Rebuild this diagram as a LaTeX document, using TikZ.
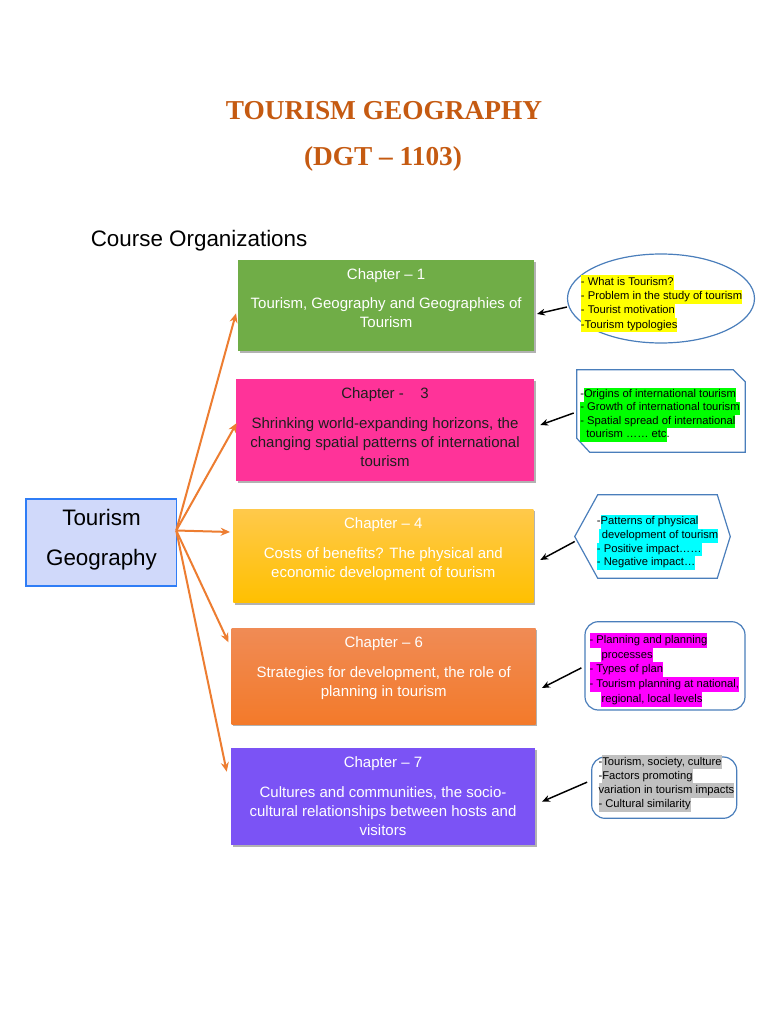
\documentclass[tikz,border=0pt]{standalone}
\usepackage{fontspec}
\setmainfont{Liberation Sans}
\newfontfamily\titlefont{Liberation Serif}
\usetikzlibrary{arrows.meta,calc,fit,shapes.geometric,shadows}
\setlength{\fboxsep}{0pt}
\newcommand\hlx[2]{\colorbox{#1}{\strut#2}}
\definecolor{titleorange}{HTML}{C55A11}
\definecolor{chgreen}{HTML}{70AD47}
\definecolor{chpink}{HTML}{FF3399}
\definecolor{chgoldtop}{HTML}{FFC94B}
\definecolor{chgoldbot}{HTML}{FFC000}
\definecolor{chorangetop}{HTML}{F08B55}
\definecolor{chorangebot}{HTML}{F37A2A}
\definecolor{chpurple}{HTML}{7B53F5}
\definecolor{tgfill}{HTML}{D0D9FA}
\definecolor{tgline}{HTML}{2F7DF6}
\definecolor{arrorange}{HTML}{ED7D31}
\definecolor{coline}{HTML}{4A7EBB}
\definecolor{hlyellow}{HTML}{FFFF00}
\definecolor{hlgreen}{HTML}{00FF00}
\definecolor{hlcyan}{HTML}{00FFFF}
\definecolor{hlmag}{HTML}{FF00FF}
\definecolor{hlgray}{HTML}{C0C0C0}
\begin{document}
\begin{tikzpicture}[x=0.75pt,y=-0.75pt,
  chapbox/.style={inner sep=0pt, drop shadow={shadow xshift=1.2pt, shadow yshift=-1.5pt, opacity=0.3, fill=black}},
  chaptext/.style={font=\fontsize{11.25}{14.3}\selectfont, align=center, inner sep=0pt, anchor=north},
  orangearrow/.style={draw=arrorange, line width=1.5pt, -{Stealth[length=7pt,width=6pt]}},
  blackarrow/.style={draw=black, line width=1.1pt, -{Stealth[length=6pt,width=5pt]}},
  callout/.style={draw=coline, line width=0.9pt},
  cotext/.style={anchor=north west, align=left, inner sep=0pt, text=black}
]
\fill[white] (0,0) rectangle (768,1024);
\useasboundingbox (0,0) rectangle (768,1024);

% titles
\node[anchor=base, inner sep=0pt, text=titleorange, font=\titlefont\bfseries\fontsize{20.5}{24}\selectfont] (title1) at (384,119.3) {TOURISM GEOGRAPHY};
\node[anchor=base, inner sep=0pt, text=titleorange, font=\titlefont\bfseries\fontsize{20.5}{24}\selectfont] (title2) at (383,165) {(DGT – 1103)};
\node[anchor=base west, inner sep=0pt, font=\fontsize{16.8}{20}\selectfont] (course) at (90.5,246) {Course Organizations};

% central node
\node[fit={(26,499) (176.7,586)}, inner sep=0pt, fill=tgfill, draw=tgline, line width=0.8pt] (tg) {};
\node[anchor=north, align=center, inner sep=0pt, font=\fontsize{16.8}{30}\selectfont] (tgt) at (101.5,509.3) {Tourism\\Geography};

% chapter boxes
\node[chapbox, fit={(238.3,260) (534,350.7)}, fill=chgreen] (ch1) {};
\node[chaptext, text=white] (ch1t) at ($(ch1.north)+(0,8.3)$) {Chapter – 1\\[7.9pt]Tourism, Geography and Geographies of\\Tourism};

\node[chapbox, fit={(236,379) (534,481)}, fill=chpink] (ch3) {};
\node[chaptext, text=black!88] (ch3t) at ($(ch3.north)+(0,8.6)$) {Chapter -\hspace{1.1em}3\\[7.9pt]Shrinking world-expanding horizons, the\\changing spatial patterns of international\\tourism};

\node[chapbox, fit={(233.3,509.3) (533.3,602.7)}, top color=chgoldtop, bottom color=chgoldbot] (ch4) {};
\node[chaptext, text=white] (ch4t) at ($(ch4.north)+(0,8.3)$) {Chapter – 4\\[7.9pt]Costs of benefits? The physical and\\economic development of tourism};

\node[chapbox, fit={(231.7,628.3) (535.7,724.3)}, top color=chorangetop, bottom color=chorangebot] (ch6) {};
\node[chaptext, text=white] (ch6t) at ($(ch6.north)+(0,8.3)$) {Chapter – 6\\[7.9pt]Strategies for development, the role of\\planning in tourism};

\node[chapbox, fit={(231,748.3) (535,845)}, fill=chpurple] (ch7) {};
\node[chaptext, text=white] (ch7t) at ($(ch7.north)+(0,8.8)$) {Chapter – 7\\[7.9pt]Cultures and communities, the socio-\\cultural relationships between hosts and\\visitors};

% orange connectors
\coordinate (hub) at ($(tg.east)+(-1,-12)$);
\draw[orangearrow] (hub) -- ($(ch1.west)+(-2,8)$);
\draw[orangearrow] (hub) -- ($(ch3.west)+(1,-7)$);
\draw[orangearrow] (hub) -- ($(ch4.west)+(-3,-24)$);
\draw[orangearrow] (hub) -- ($(ch6.west)+(-3,-34)$);
\draw[orangearrow] (hub) -- ($(ch7.west)+(-4,-25)$);

% callout 1 (ellipse)
\node[ellipse, callout, minimum width=140.25pt, minimum height=66.75pt, inner sep=0pt] (c1) at (661,298.5) {};
\node[cotext, font=\fontsize{8.4}{10.7}\selectfont] (c1t) at (580.7,275) {\hlx{hlyellow}{- What is Tourism?}\\\hlx{hlyellow}{- Problem in the study of tourism}\\\hlx{hlyellow}{- Tourist motivation}\\\hlx{hlyellow}{-Tourism typologies}};

% callout 2 (snipped corners)
\node[fit={(577,370) (745,452)}, inner sep=0pt] (c2) {};
\draw[callout] (c2.north west) -- ($(c2.north east)+(-12,0)$) -- ($(c2.north east)+(0,12)$) -- (c2.south east) -- ($(c2.south west)+(13,0)$) -- ($(c2.south west)+(0,-14)$) -- cycle;
\node[cotext, font=\fontsize{8.4}{10.05}\selectfont] (c2t) at (580,387.9) {-\hlx{hlgreen}{Origins of international tourism}\\\hlx{hlgreen}{- Growth of international tourism}\\\hlx{hlgreen}{- Spatial spread of international}\\\hlx{hlgreen}{\hspace*{4.5pt}tourism …… etc}.};

% callout 3 (hexagon)
\node[fit={(575,495) (730,578)}, inner sep=0pt] (c3) {};
\draw[callout] (c3.west) -- ($(c3.north west)+(23,0)$) -- ($(c3.north east)+(-13,0)$) -- (c3.east) -- ($(c3.south east)+(-13,0)$) -- ($(c3.south west)+(23,0)$) -- cycle;
\node[cotext, font=\fontsize{8.4}{10.25}\selectfont] (c3t) at (596.7,515.1) {-\hlx{hlcyan}{Patterns of physical}\\\hspace*{1.7pt}\hlx{hlcyan}{\hspace*{2pt}development of tourism}\\\hlx{hlcyan}{- Positive impact……}\\\hlx{hlcyan}{- Negative impact…}};

% callout 4 (rounded)
\node[fit={(585,621.7) (745,710)}, inner sep=0pt, callout, rounded corners=10pt] (c4) {};
\node[cotext, font=\fontsize{8.4}{11.1}\selectfont] (c4t) at (589.3,632.6) {\hlx{hlmag}{- Planning and planning}\\\hspace*{8.3pt}\hlx{hlmag}{\hspace*{0.7pt}processes}\\\hlx{hlmag}{- Types of plan}\\\hlx{hlmag}{- Tourism planning at national,}\\\hspace*{8.3pt}\hlx{hlmag}{\hspace*{0.7pt}regional, local levels}};

% callout 5 (rounded)
\node[fit={(591.7,757) (736.7,818.3)}, inner sep=0pt, callout, rounded corners=10pt] (c5) {};
\node[cotext, font=\fontsize{8.4}{10.65}\selectfont] (c5t) at (598.3,754.8) {-\hlx{hlgray}{Tourism, society, culture}\\-\hlx{hlgray}{Factors promoting}\\\hlx{hlgray}{variation in tourism impacts}\\\hlx{hlgray}{- Cultural similarity}};

% black connectors
\draw[blackarrow] ($(c1.west)+(0,8.5)$) -- ($(ch1.east)+(2.7,8.6)$);
\draw[blackarrow] ($(c2.west)+(-3,2)$) -- ($(ch3.east)+(6,-5)$);
\draw[blackarrow] ($(c3.west)+(0,5)$) -- ($(ch4.east)+(6.7,4)$);
\draw[blackarrow] ($(c4.west)+(-3,2)$) -- ($(ch6.east)+(6,11.7)$);
\draw[blackarrow] ($(c5.west)+(-4,-5.5)$) -- ($(ch7.east)+(6.7,5)$);
\end{tikzpicture}
\end{document}
